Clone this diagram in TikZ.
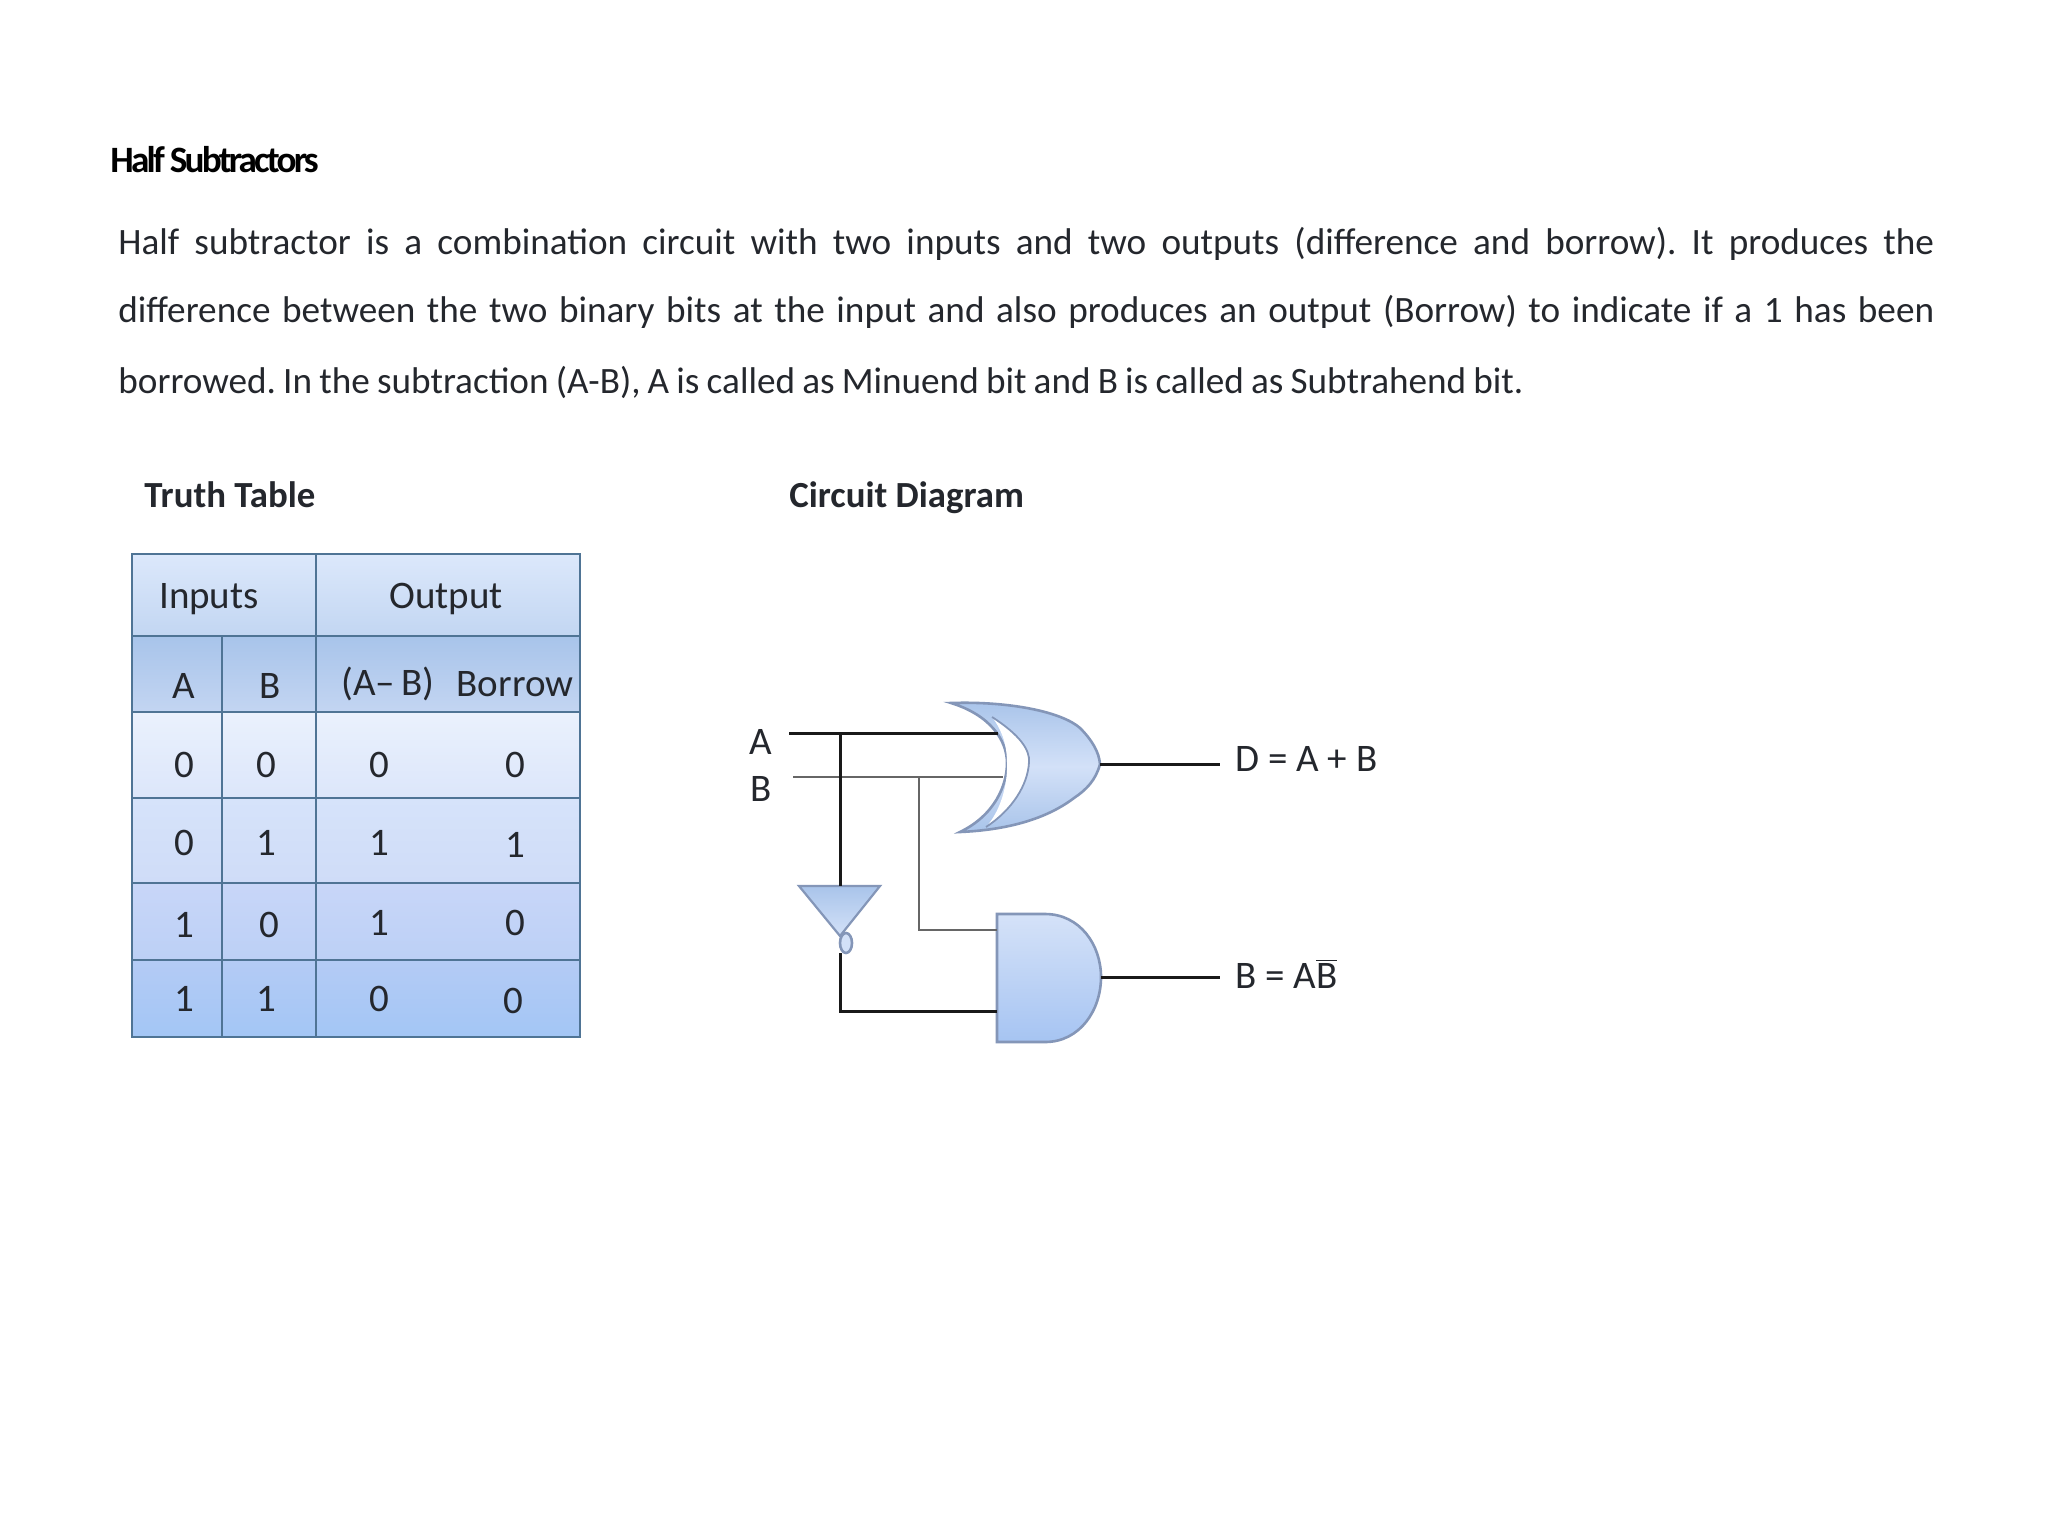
\documentclass[tikz,border=0pt]{standalone}
\usepackage{fontspec}
\setmainfont{Carlito}
\usetikzlibrary{calc}
\definecolor{ink}{HTML}{24272D}
\definecolor{rule}{HTML}{4F7495}
\definecolor{gateedge}{HTML}{8496B8}
\definecolor{gt}{HTML}{D5E2F8}
\definecolor{gb}{HTML}{A6C4F2}
\definecolor{go}{HTML}{A9C4EA}
\definecolor{gm}{HTML}{D3E1F8}
\tikzset{
  x=0.5pt,y=-0.5pt,
  body/.style={anchor=base west,inner sep=0pt,text width=908pt,align=justify,text=ink,font=\fontsize{18.6}{20}\selectfont},
  head/.style={anchor=base west,inner sep=0pt,text=ink,font=\fontsize{18.4}{20}\selectfont\bfseries},
  cell/.style={inner sep=0pt,text=ink,font=\fontsize{19.5}{22}\selectfont},
  gatelab/.style={inner sep=0pt,text=ink,font=\fontsize{19.5}{20}\selectfont},
  tline/.style={draw=rule,line width=1.1pt},
  wire/.style={draw=black!90,line width=1.5pt},
  wirethin/.style={draw=black!60,line width=0.9pt},
  gate/.style={draw=gateedge,line width=1.3pt,top color=gt,bottom color=gb},
  orgate/.style={draw=gateedge,line width=1.3pt,top color=go,bottom color=go,middle color=gm},
}
\begin{document}
\begin{tikzpicture}
\useasboundingbox (0,0) rectangle (2048,1536);
\fill[white] (0,0) rectangle (2048,1536);

% Text block
\node[anchor=base west,inner sep=0pt,text=black,font=\fontsize{18.6}{20}\selectfont\bfseries\addfontfeature{LetterSpace=-7.5}] (title) at (110,172) {\spaceskip=2.5pt Half Subtractors};
\node[body] (l1) at (118,254) {\tolerance=10000\hbadness=10000\frenchspacing\parfillskip=0pt Half subtractor is a combination circuit with two inputs and two outputs (difference and borrow). It produces the\par};
\node[body] (l2) at (118,322) {\tolerance=10000\hbadness=10000\frenchspacing\parfillskip=0pt difference between the two binary bits at the input and also produces an output (Borrow) to indicate if a 1 has been\par};
\node[anchor=base west,inner sep=0pt,text=ink,font=\fontsize{18.6}{20}\selectfont] (l3) at (118,393) {\frenchspacing\spaceskip=3.6pt borrowed. In the subtraction (A-B), A is called as Minuend bit and B is called as Subtrahend bit.};
\node[head] (tt) at (144,507) {Truth Table};
\node[head] (cd) at (789,507) {Circuit Diagram};

% Table fills
\fill[top color={rgb,255:red,220;green,232;blue,251},bottom color={rgb,255:red,194;green,214;blue,242}] (132,554) rectangle (580,636);
\fill[top color={rgb,255:red,168;green,196;blue,234},bottom color={rgb,255:red,195;green,213;blue,242}] (132,636) rectangle (580,712);
\fill[top color={rgb,255:red,234;green,241;blue,253},bottom color={rgb,255:red,220;green,230;blue,250}] (132,712) rectangle (580,798);
\fill[top color={rgb,255:red,214;green,227;blue,250},bottom color={rgb,255:red,207;green,220;blue,248}] (132,798) rectangle (580,883);
\fill[top color={rgb,255:red,200;green,214;blue,248},bottom color={rgb,255:red,188;green,208;blue,246}] (132,883) rectangle (580,960);
\fill[top color={rgb,255:red,180;green,203;blue,245},bottom color={rgb,255:red,163;green,198;blue,245}] (132,960) rectangle (580,1037);

% Table rules
\draw[tline] (132,554) rectangle (580,1037);
\foreach \yy in {636,712,798,883,960} \draw[tline] (132,\yy) -- (580,\yy);
\draw[tline] (316,554) -- (316,1037);
\draw[tline] (222,636) -- (222,1037);

% Table text
\node[cell] (hi) at (209,599) {Inputs};
\node[cell] (ho) at (446,599) {Output};
\node[cell] (ha) at (184,686) {A};
\node[cell] (hb) at (270,686) {B};
\node[cell] (hd) at (388,684) {(A{\char"2013}\,B)};
\node[cell] (hr) at (515,684) {Borrow};
\node[cell] (a1) at (184,765) {0};
\node[cell] (b1) at (266,765) {0};
\node[cell] (d1) at (379,765) {0};
\node[cell] (r1) at (515,765) {0};
\node[cell] (a2) at (184,843) {0};
\node[cell] (b2) at (266,843) {1};
\node[cell] (d2) at (379,843) {1};
\node[cell] (r2) at (515,845) {1};
\node[cell] (a3) at (184,925) {1};
\node[cell] (b3) at (269,925) {0};
\node[cell] (d3) at (379,923) {1};
\node[cell] (r3) at (515,923) {0};
\node[cell] (a4) at (184,999) {1};
\node[cell] (b4) at (266,999) {1};
\node[cell] (d4) at (379,999) {0};
\node[cell] (r4) at (513,1001) {0};

% Circuit coordinates
\coordinate (Astart) at (789,733);
\coordinate (Aend) at (998,733);
\coordinate (Bstart) at (793,777);
\coordinate (Bend) at (1003,777);
\coordinate (Ajoin) at (840,733);
\coordinate (Bjoin) at (919,777);
\coordinate (nottop) at (840,886);
\coordinate (notbub) at (840,953);
\coordinate (and1) at (997,930);
\coordinate (and2) at (997,1011);
\coordinate (orout) at (1100,764);
\coordinate (andout) at (1101,977);
\coordinate (Dend) at (1220,764);
\coordinate (Bend2) at (1220,977);
\coordinate (notcorner) at (840,1011);
\coordinate (bcorner) at (919,930);

% OR gate
\path[orgate] (951,703) .. controls (1010,701) and (1062,712) .. (1080,728)
  .. controls (1092,740) and (1099,752) .. (1100,764)
  .. controls (1096,780) and (1086,790) .. (1074,798)
  .. controls (1045,820) and (1005,830) .. (960,832)
  .. controls (995,815) and (1007,785) .. (1007,763)
  .. controls (1007,740) and (990,715) .. (951,703) -- cycle;
\fill[white] (992,717) .. controls (1020,735) and (1030,750) .. (1029,762)
  .. controls (1028,785) and (1012,810) .. (986,827)
  .. controls (1000,812) and (1008,785) .. (1007,763)
  .. controls (1007,745) and (1002,730) .. (992,717) -- cycle;
\draw[draw=gateedge,line width=0.9pt] (992,717) .. controls (1020,735) and (1030,750) .. (1029,762)
  .. controls (1028,785) and (1012,810) .. (986,827);

% AND gate
\path[gate] (997,914) -- (1045,914) .. controls (1080,914) and (1101,945) .. (1101,977)
  .. controls (1101,1010) and (1080,1042) .. (1045,1042) -- (997,1042) -- cycle;

% NOT gate
\path[draw=gateedge,line width=1.1pt,top color=go,bottom color=gm] (799,886) -- (880,886) -- (840,936) -- cycle;
\path[draw=gateedge,line width=1.3pt,fill=gm] (846,943) ellipse (6 and 10);

% Wires
\draw[wire] (Astart) -- (Aend);
\draw[wirethin] (Bstart) -- (Bend);
\draw[wire] (Ajoin) -- (nottop);
\draw[wire] (notbub) -- (notcorner) -- (and2);
\draw[wirethin] (Bjoin) -- (bcorner) -- (and1);
\draw[wire] (orout) -- (Dend);
\draw[wire] (andout) -- (Bend2);

% Labels
\node[cell] (la) at (761,742) {A};
\node[cell] (lb) at (761,789) {B};
\node[gatelab,anchor=west] (ld) at (1235,759) {D = A + B};
\node[gatelab,anchor=west] (lb2) at (1235,974) {B = A$\overline{\mbox{B}}$};
\end{tikzpicture}
\end{document}
